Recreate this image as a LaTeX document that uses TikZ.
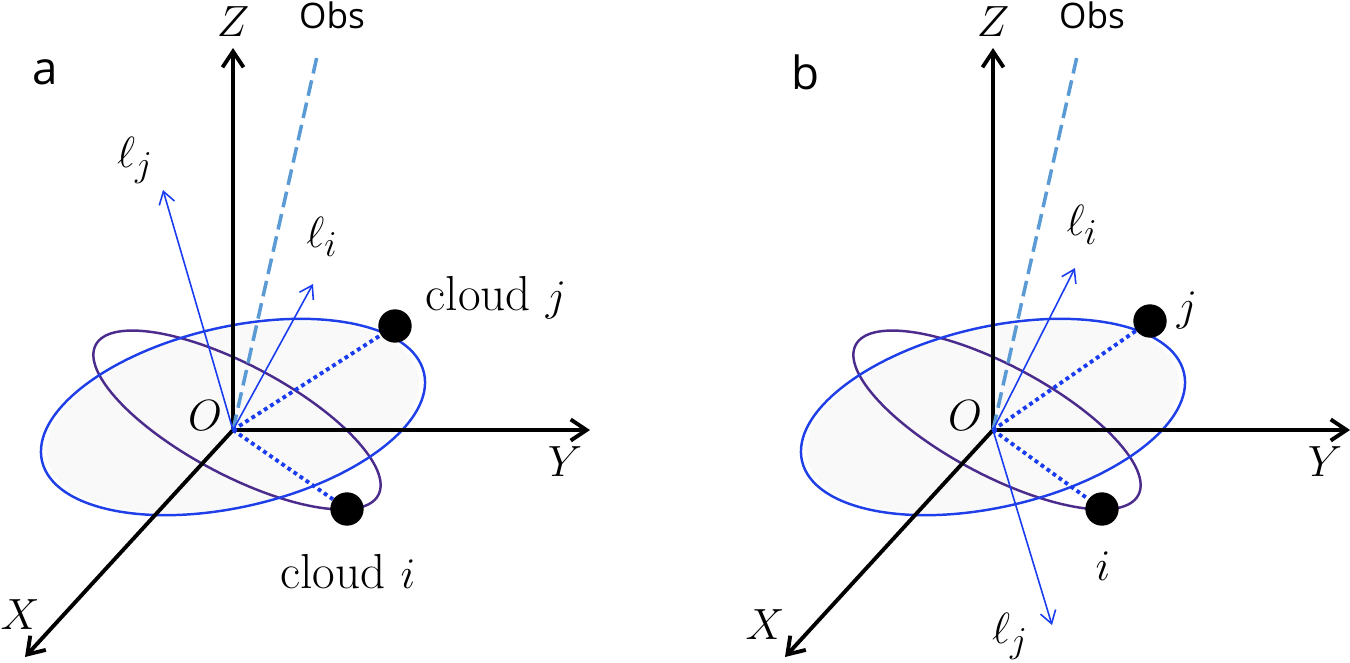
\documentclass[tikz,border=0pt]{standalone}
\usepackage{fontspec}
\newfontfamily\sff{Open Sans}
\usetikzlibrary{arrows.meta}
\definecolor{obsc}{HTML}{5B9BD5}
\definecolor{ellb}{HTML}{1F3FE8}
\definecolor{ellp}{HTML}{4B2C8C}
\definecolor{vecb}{HTML}{1A3CF0}
\tikzset{
 axis/.style={line width=2.2pt,-{Straight Barb[length=9pt,width=12pt]}},
 obsl/.style={obsc,line width=2pt,dash pattern=on 9pt off 4pt},
 vec/.style={vecb,line width=0.9pt,-{Straight Barb[length=7pt,width=9pt]}},
 dot/.style={vecb,line width=2.2pt,dotted},
 cl/.style={circle,fill=black,inner sep=0pt,minimum size=19pt},
 lab/.style={font=\fontsize{28}{30}\selectfont},
 slab/.style={font=\sff\fontsize{20}{22}\selectfont},
}
\begin{document}
\begin{tikzpicture}[x=0.02cm,y=-0.02cm]
\useasboundingbox (0,0) rectangle (1350,663);
\foreach \dx/\pn in {0/a,760/b}{
\begin{scope}[xshift=\dx*0.02cm]
 \fill[gray!5] (233,417) [rotate around={13:(233,417)}] ellipse [x radius=190,y radius=88];
 \draw[ellp,line width=1.4pt] (237,420) [rotate around={-28:(237,420)}] ellipse [x radius=160,y radius=55];
 \draw[ellb,line width=1.4pt] (233,417) [rotate around={13:(233,417)}] ellipse [x radius=196,y radius=90];
 \coordinate (O\pn) at (233,430);
 \coordinate (Z\pn) at (233,48);
 \coordinate (Y\pn) at (590,430);
 \coordinate (X\pn) at (25,657);
 \coordinate (Ob\pn) at (318,52);
 \draw[axis] (O\pn) -- (Z\pn);
 \draw[axis] (O\pn) -- (Y\pn);
 \draw[axis] (O\pn) -- (X\pn);
 \draw[obsl] (O\pn) -- (Ob\pn);
 \node[slab] (obs\pn) at (332,15) {Obs};
 \node[lab,font=\fontsize{24}{26}\selectfont] (zl\pn) at (233,22) {$Z$};
 \node[lab,font=\fontsize{24}{26}\selectfont] (ol\pn) at (205,416) {$O$};
 \node[slab,font=\sff\fontsize{26}{28}\selectfont] (p\pn) at (45,72) {\pn};
\end{scope}}
% panel a
\node[cl] (cj) at (395,326) {};
\node[cl] (ci) at (347,509) {};
\draw[dot] (Oa) -- (cj);
\draw[dot] (Oa) -- (ci);
\coordinate (lja) at (163,190);
\coordinate (lia) at (313,284);
\draw[vec] (Oa) -- (lja);
\draw[vec] (Oa) -- (lia);
\node[lab] (ljal) at (135,160) {$\ell_j$};
\node[lab] (lial) at (322,237) {$\ell_i$};
\node[lab] (cjl) at (496,298) {cloud $j$};
\node[lab] (cil) at (348,572) {cloud $i$};
\node[lab,font=\fontsize{24}{26}\selectfont] (yla) at (565,462) {$Y$};
\node[lab,font=\fontsize{24}{26}\selectfont] (xla) at (20,615) {$X$};
% panel b
\node[cl] (bj) at (1150,321) {};
\node[cl] (bi) at (1102,509) {};
\draw[dot] (Ob) -- (bj);
\draw[dot] (Ob) -- (bi);
\coordinate (lib) at (1075,268);
\coordinate (ljb) at (1052,625);
\draw[vec] (Ob) -- (lib);
\draw[vec] (Ob) -- (ljb);
\node[lab] (libl) at (1082,225) {$\ell_i$};
\node[lab] (ljbl) at (1010,636) {$\ell_j$};
\node[lab] (bjl) at (1187,310) {$j$};
\node[lab] (bil) at (1103,566) {$i$};
\node[lab,font=\fontsize{24}{26}\selectfont] (ylb) at (1325,462) {$Y$};
\node[lab,font=\fontsize{24}{26}\selectfont] (xlb) at (765,625) {$X$};
\end{tikzpicture}
\end{document}
